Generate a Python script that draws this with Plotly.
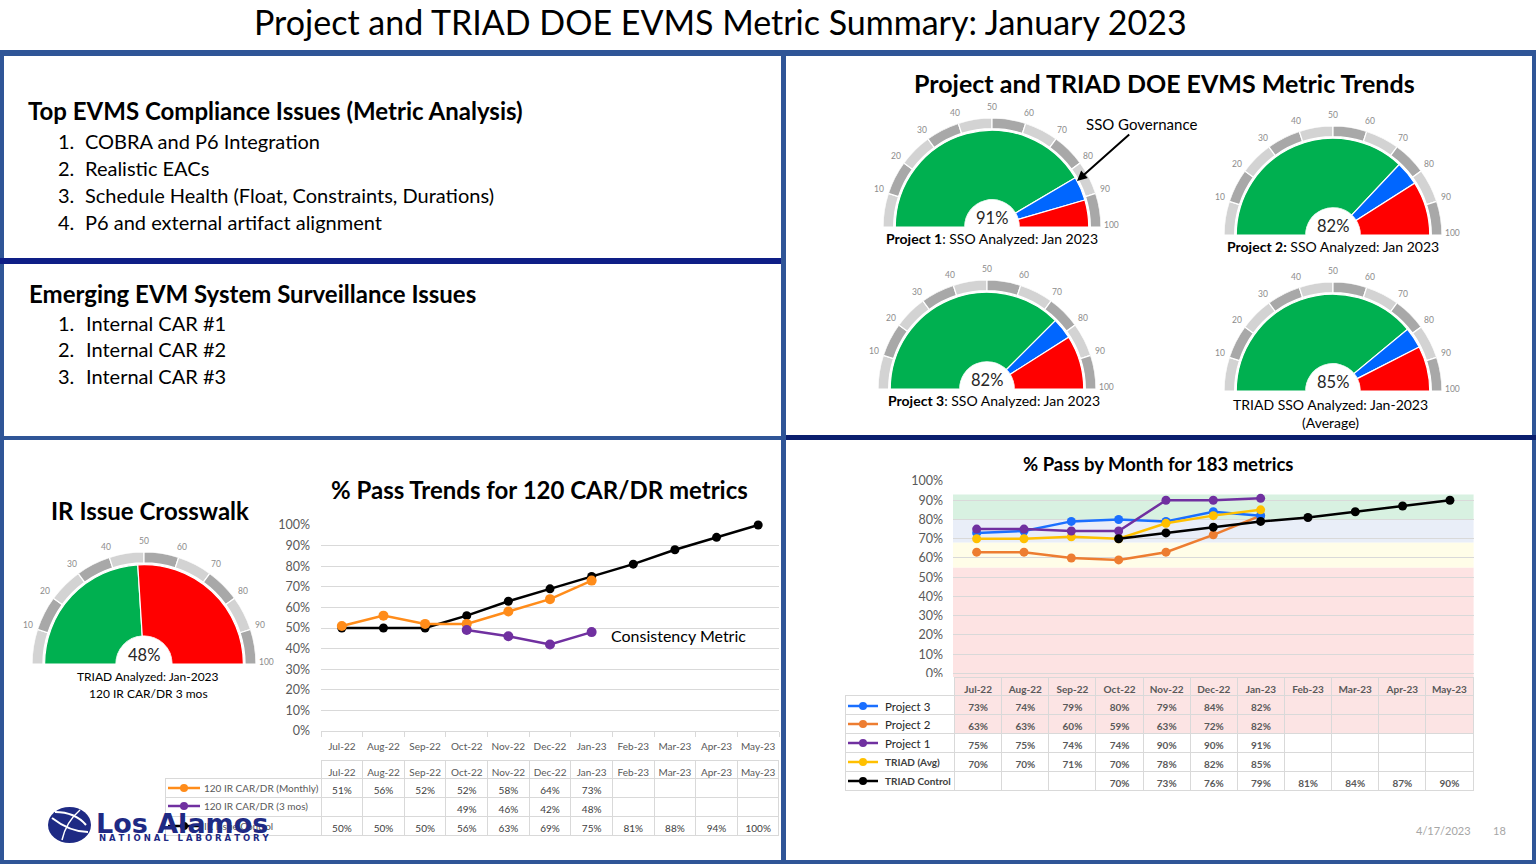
import math
import plotly.graph_objects as go

W, H = 1536, 864
def px(x): return x / W
def py(y): return 1 - y / H

FONT = "Lato"
GREY = "#595959"
GRID = "#D9D9D9"

# ---------------- data ----------------
months = ['Jul-22', 'Aug-22', 'Sep-22', 'Oct-22', 'Nov-22', 'Dec-22', 'Jan-23',
          'Feb-23', 'Mar-23', 'Apr-23', 'May-23']

# % Pass Trends for 120 CAR/DR metrics
ir_monthly = [51, 56, 52, 52, 58, 64, 73, None, None, None, None]
ir_3mos = [None, None, None, 49, 46, 42, 48, None, None, None, None]
ir_control = [50, 50, 50, 56, 63, 69, 75, 81, 88, 94, 100]

# % Pass by Month for 183 metrics
proj3 = [73, 74, 79, 80, 79, 84, 82, None, None, None, None]
proj2 = [63, 63, 60, 59, 63, 72, 82, None, None, None, None]
proj1 = [75, 75, 74, 74, 90, 90, 91, None, None, None, None]
triad_avg = [70, 70, 71, 70, 78, 82, 85, None, None, None, None]
triad_control = [None, None, None, 70, 73, 76, 79, 81, 84, 87, 90]

# gauges: total pass %, SSO governance part (blue)
gauge_values = [91, 82, 82, 85, 48]
gauge_sso = [8, 8, 7, 7, 0]
ring_steps = [10] * 10
ring_labels = ['10', '20', '30', '40', '50', '60', '70', '80', '90', '100']

pct_ticks = list(range(0, 101, 10))
pct_labels = [f'{v}%' for v in pct_ticks]

# band limits for the right chart
band_limits = [(-5, 55, '#FDE3E3'), (55, 68, '#FFFDE8'), (68, 80, '#E9EEF8'), (80, 93, '#D8F1E1')]

top_issues = ['COBRA and P6 Integration', 'Realistic EACs',
              'Schedule Health (Float, Constraints, Durations)',
              'P6 and external artifact alignment']
emerging_issues = ['Internal CAR #1', 'Internal CAR #2', 'Internal CAR #3']

C_ORANGE_L = '#FF8C1A'
C_PURPLE = '#7030A0'
C_BLUE = '#1A6FFF'
C_ORANGE = '#ED7D31'
C_YELLOW = '#FFC000'
C_BLACK = '#000000'

fig = go.Figure()
annotations = []
shapes = []

def ann(text, x, y, size, color='black', xanchor='center', yanchor='middle', family=FONT, **kw):
    annotations.append(dict(text=text, x=px(x), y=py(y), xref='paper', yref='paper',
                            showarrow=False, xanchor=xanchor, yanchor=yanchor,
                            font=dict(family=family, size=size, color=color), **kw))

def rect(x0, y0, x1, y1, color, layer='above'):
    shapes.append(dict(type='rect', xref='paper', yref='paper', x0=px(x0), x1=px(x1),
                       y0=py(y1), y1=py(y0), fillcolor=color, line=dict(width=0), layer=layer))

def fmt(v):
    return '' if v is None else f'{v}%'

# ---------------- left line chart ----------------
for vals, col, ms in [(ir_control, C_BLACK, 9), (ir_monthly, C_ORANGE_L, 10), (ir_3mos, C_PURPLE, 10)]:
    fig.add_trace(go.Scatter(x=months, y=vals, mode='lines+markers', xaxis='x', yaxis='y',
                             line=dict(color=col, width=2.5), marker=dict(size=ms, color=col),
                             cliponaxis=False, showlegend=False, hoverinfo='skip'))

# ---------------- right line chart ----------------
for vals, col in [(proj2, C_ORANGE), (proj3, C_BLUE), (triad_avg, C_YELLOW), (proj1, C_PURPLE),
                  (triad_control, C_BLACK)]:
    fig.add_trace(go.Scatter(x=months, y=vals, mode='lines+markers', xaxis='x2', yaxis='y2',
                             line=dict(color=col, width=2.5), marker=dict(size=9, color=col),
                             cliponaxis=False, showlegend=False, hoverinfo='skip'))

for lo, hi, col in band_limits:
    shapes.append(dict(type='rect', xref='x2 domain', yref='y2', x0=0, x1=1, y0=lo, y1=hi,
                       fillcolor=col, line=dict(width=0), layer='below'))

# ---------------- tables ----------------
left_rows = [ir_monthly, ir_3mos, ir_control]
left_cols = [[''] * 3] + [[fmt(r[i]) for r in left_rows] for i in range(len(months))]
fig.add_trace(go.Table(
    domain=dict(x=[px(165), px(779)], y=[py(842), py(760)]),
    columnwidth=[156] + [41.6] * 11,
    header=dict(values=[''] + months, height=18, align='center',
                line=dict(color=['rgba(0,0,0,0)'] + [GRID] * 11, width=1),
                fill=dict(color='white'), font=dict(family=FONT, size=10, color=GREY)),
    cells=dict(values=left_cols, height=19, align='center',
               line=dict(color=GRID, width=1), fill=dict(color='white'),
               font=dict(family=FONT, size=10, color='#404040'))))

PINK = '#FCE4E4'
right_rows = [proj3, proj2, proj1, triad_avg, triad_control]
right_cols = [[''] * 5] + [[fmt(r[i]) for r in right_rows] for i in range(len(months))]
fill_cols = [['white'] * 5] + [[PINK, PINK, 'white', 'white', 'white'] for _ in months]
fig.add_trace(go.Table(
    domain=dict(x=[px(845), px(1473.6)], y=[py(796), py(677)]),
    columnwidth=[110] + [47.3] * 11,
    header=dict(values=[''] + months, height=18, align='center',
                line=dict(color=['rgba(0,0,0,0)'] + [GRID] * 11, width=1),
                fill=dict(color=['white'] + [PINK] * 11),
                font=dict(family=FONT, size=10, color=GREY, weight='bold')),
    cells=dict(values=right_cols, height=19, align='center',
               line=dict(color=GRID, width=1), fill=dict(color=fill_cols),
               font=dict(family=FONT, size=10, color=GREY, weight='bold'))))

# legend keys
def key(x0, x1, y, col):
    shapes.append(dict(type='line', xref='paper', yref='paper', x0=px(x0), x1=px(x1),
                       y0=py(y), y1=py(y), line=dict(color=col, width=2.5)))
    xc = (x0 + x1) / 2
    shapes.append(dict(type='circle', xref='paper', yref='paper', x0=px(xc - 4), x1=px(xc + 4),
                       y0=py(y + 4), y1=py(y - 4), fillcolor=col, line=dict(width=0)))

left_legend = [('120 IR CAR/DR (Monthly)', C_ORANGE_L, 788), ('120 IR CAR/DR (3 mos)', C_PURPLE, 806),
               ('IR Issue Control', C_BLACK, 826)]
for t, c, y in left_legend:
    key(168, 200, y, c)
    ann(t, 202, y, 10, GREY, xanchor='left')

right_legend = [('Project 3', C_BLUE, 706, 11.5, False), ('Project 2', C_ORANGE, 724, 11.5, False),
                ('Project 1', C_PURPLE, 743, 11.5, False), ('TRIAD (Avg)', C_YELLOW, 762, 10, True),
                ('TRIAD Control', C_BLACK, 781, 10, True)]
for t, c, y, s, b in right_legend:
    key(848, 878, y, c)
    ann(('<b>%s</b>' % t) if b else t, 883, y, s, '#262626' if not b else '#404040', xanchor='left')

# ---------------- gauges ----------------
gauge_geo = [(992, 227, 109), (1333, 235, 109), (987, 389, 109), (1333, 391, 109), (144, 664, 112)]
polar_layouts = {}
for gi, ((cx, base, r), v, sso) in enumerate(zip(gauge_geo, gauge_values, gauge_sso)):
    name = 'polar' if gi == 0 else f'polar{gi + 1}'
    # outer ring
    th, wd, cols = [], [], []
    acc = 0
    for k, s in enumerate(ring_steps):
        th.append((acc + s / 2) * 1.8)
        wd.append(s * 1.8)
        cols.append('#D3D3D3' if k % 2 == 0 else '#A8A8A8')
        acc += s
        # tick label just outside the ring
        ang = math.radians(180 - acc * 1.8)
        ann(ring_labels[k], cx + (r + 10) * math.cos(ang), base - (r + 9) * math.sin(ang) - 2,
            8.5, '#8C8C8C')
    fig.add_trace(go.Barpolar(theta=th, width=wd, r=[0.13] * len(th), base=[0.87] * len(th),
                              marker=dict(color=cols, line=dict(color='white', width=1.2)),
                              subplot=name, showlegend=False, hoverinfo='skip'))
    # fill
    segs = [(v - sso, '#00B050'), (sso, '#0066FF'), (100 - v, '#FF0000')]
    th, wd, cols = [], [], []
    acc = 0
    for s, c in segs:
        if s > 0:
            th.append((acc + s / 2) * 1.8)
            wd.append(s * 1.8)
            cols.append(c)
        acc += s
    fig.add_trace(go.Barpolar(theta=th, width=wd, r=[0.85] * len(th),
                              marker=dict(color=cols, line=dict(color='white', width=1.2)),
                              subplot=name, showlegend=False, hoverinfo='skip'))
    polar_layouts[name] = dict(
        domain=dict(x=[px(cx - r), px(cx + r)], y=[py(base), py(base - r)]),
        sector=[0, 180], hole=0.25, bgcolor='rgba(0,0,0,0)',
        radialaxis=dict(visible=False, range=[0, 1]),
        angularaxis=dict(rotation=180, direction='clockwise', showticklabels=False,
                         showgrid=False, showline=False, ticks=''))
    ann(f'{v}%', cx, base - 9, 16.5, '#262626')

# gauge captions
ann('<b>Project 1</b>: SSO Analyzed: Jan 2023', 992, 238, 14)
ann('<b>Project 2:</b> SSO Analyzed: Jan 2023', 1333, 246, 14)
ann('<b>Project 3</b>: SSO Analyzed: Jan 2023', 994, 400, 14)
ann('TRIAD SSO Analyzed: Jan-2023', 1330, 404, 14)
ann('(Average)', 1330, 423, 14)
ann('TRIAD Analyzed: Jan-2023', 148, 676, 12)
ann('120 IR CAR/DR 3 mos', 148, 693, 12)

annotations.append(dict(text='SSO Governance', x=px(1077), y=py(181), xref='paper', yref='paper',
                        ax=64, ay=-57, showarrow=True, arrowhead=2, arrowsize=1, arrowwidth=2,
                        arrowcolor='black', font=dict(family=FONT, size=15, color='black')))

# ---------------- texts ----------------
ann('Project and TRIAD DOE EVMS Metric Summary: January 2023', 720, 22, 34, 'black')
ann('<b>Top EVMS Compliance Issues (Metric Analysis)</b>', 26, 111, 24, xanchor='left')
for i, t in enumerate(top_issues):
    ann(f'{i + 1}.', 56, 141 + i * 27, 20, xanchor='left')
    ann(t, 83, 141 + i * 27, 20, xanchor='left')
ann('<b>Emerging EVM System Surveillance Issues</b>', 27, 293, 24, xanchor='left')
for i, t in enumerate(emerging_issues):
    ann(f'{i + 1}.', 56, 323 + i * 26.5, 20, xanchor='left')
    ann(t, 84, 323 + i * 26.5, 20, xanchor='left')

ann('<b>Project and TRIAD DOE EVMS Metric Trends</b>', 1164, 83, 25)
ann('<b>IR Issue Crosswalk</b>', 150, 510, 24)
ann('<b>% Pass Trends for 120 CAR/DR metrics</b>', 539, 489, 24)
ann('<b>% Pass by Month for 183 metrics</b>', 1158, 464, 18.5)
ann('Consistency Metric', 609, 635, 16, xanchor='left')
ann('4/17/2023', 1443, 830, 11, '#A6A6A6')
ann('18', 1499, 830, 11, '#A6A6A6')

# ---------------- logo ----------------
NAVY = '#1E2A84'
shapes.append(dict(type='circle', xref='paper', yref='paper', x0=px(48), x1=px(91), y0=py(843), y1=py(807),
                   fillcolor=NAVY, line=dict(width=0), layer='above'))
shapes.append(dict(type='path', xref='paper', yref='paper', layer='above',
                   path=f'M {px(52)} {py(818)} Q {px(70)} {py(832)} {px(88)} {py(832)}',
                   line=dict(color='white', width=2)))
shapes.append(dict(type='path', xref='paper', yref='paper', layer='above',
                   path=f'M {px(55)} {py(812)} Q {px(75)} {py(812)} {px(86)} {py(825)}',
                   line=dict(color='white', width=2)))
shapes.append(dict(type='path', xref='paper', yref='paper', layer='above',
                   path=f'M {px(62)} {py(840)} Q {px(66)} {py(822)} {px(80)} {py(810)}',
                   line=dict(color='white', width=1.5)))
ann('<b>Los Alamos</b>', 94, 823, 27, NAVY, xanchor='left', family='DejaVu Sans')
ann('<b>N A T I O N A L   L A B O R A T O R Y</b>', 97, 838, 8.5, NAVY, xanchor='left', family='DejaVu Sans')

# ---------------- frame ----------------
BLUE_F = '#2F5597'
DARK_F = '#0E1E86'
rect(0, 50, 1536, 56, BLUE_F)
rect(0, 50, 4, 864, BLUE_F)
rect(1532, 50, 1536, 864, BLUE_F)
rect(0, 860, 1536, 864, BLUE_F)
rect(0, 258, 782, 264, DARK_F)
rect(0, 436, 782, 440, BLUE_F)
rect(786, 435, 1536, 440, '#0B1F6E')
rect(781, 50, 786, 864, BLUE_F)

fig.update_layout(
    width=W, height=H, margin=dict(l=0, r=0, t=0, b=0, pad=0, autoexpand=False),
    paper_bgcolor='white', plot_bgcolor='rgba(0,0,0,0)', autosize=False,
    font=dict(family=FONT),
    xaxis=dict(domain=[px(321), px(779)], type='category', range=[-0.5, 10.5], anchor='y',
               showgrid=False, showline=True, linecolor=GRID, ticks='outside', tickson='boundaries',
               ticklen=5, tickcolor=GRID, tickangle=0, ticklabelstandoff=6, automargin=False,
               tickfont=dict(size=10, color=GREY), fixedrange=True),
    yaxis=dict(domain=[py(731), py(525)], range=[0, 100], anchor='x', tickmode='array',
               tickvals=pct_ticks, ticktext=pct_labels, automargin=False, ticklabelstandoff=10,
               showgrid=True, gridcolor=GRID, zeroline=False, showline=False,
               tickfont=dict(size=12.5, color=GREY), fixedrange=True),
    xaxis2=dict(domain=[px(953), px(1473.6)], type='category', range=[-0.5, 10.5], anchor='y2',
                showgrid=False, showticklabels=False, showline=False, fixedrange=True, automargin=False),
    yaxis2=dict(domain=[py(683), py(481)], range=[-5, 100], anchor='x2', tickmode='array',
                tickvals=pct_ticks, ticktext=pct_labels, automargin=False, ticklabelstandoff=9,
                showgrid=True, gridcolor=GRID, zeroline=False, showline=False,
                tickfont=dict(size=12.5, color=GREY), fixedrange=True),
    annotations=annotations, shapes=shapes, showlegend=False,
    **polar_layouts)

post = ("document.documentElement.style.margin='0';document.body.style.margin='0';"
        "document.body.style.padding='0';document.documentElement.style.overflow='hidden';"
        "var gd=document.getElementById('{plot_id}');gd.style.position='fixed';"
        "gd.style.left='0px';gd.style.top='0px';")
fig.write_html('out.html', config={'displayModeBar': False}, post_script=post)
